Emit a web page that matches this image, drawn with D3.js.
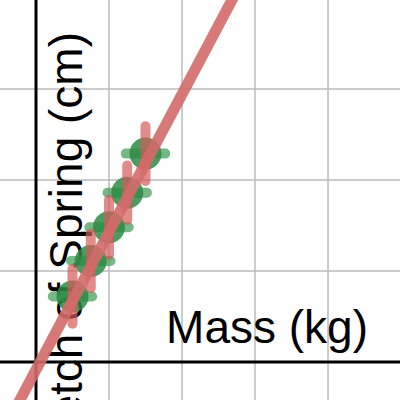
<!DOCTYPE html>
<html><head><meta charset="utf-8">
<script src="https://cdn.jsdelivr.net/npm/d3@7"></script>
<style>body{margin:0;background:#fff}</style>
</head><body>
<script>
// spring data
const mass = [0.5, 0.75, 1.0, 1.25, 1.5];
const stretch = [0.72, 1.11, 1.48, 1.86, 2.29];
const massErr = 0.27;
const stretchErr = 0.3;
const fitSlope = 1.514, fitIntercept = -0.086;
const xGrid = [1, 2, 3, 4];
const yGrid = [1, 2, 3];

const W = 400, H = 400;
const x = d3.scaleLinear().domain([-0.493, 4.986]).range([0, W]);
const y = d3.scaleLinear().domain([-0.418, 3.978]).range([H, 0]);

const svg = d3.select("body").append("svg").attr("width", W).attr("height", H)
  .style("font-family", "'Liberation Sans', Arial, sans-serif");

svg.selectAll(".gx").data(xGrid).enter().append("line")
  .attr("x1", d => x(d)).attr("x2", d => x(d)).attr("y1", 0).attr("y2", H)
  .attr("stroke", "#bbb").attr("stroke-width", 1.5);
svg.selectAll(".gy").data(yGrid).enter().append("line")
  .attr("y1", d => y(d)).attr("y2", d => y(d)).attr("x1", 0).attr("x2", W)
  .attr("stroke", "#bbb").attr("stroke-width", 1.5);

// axes
svg.append("line").attr("x1", x(0)).attr("x2", x(0)).attr("y1", 0).attr("y2", H)
  .attr("stroke", "#000").attr("stroke-width", 3);
svg.append("line").attr("y1", y(0)).attr("y2", y(0)).attr("x1", 0).attr("x2", W)
  .attr("stroke", "#000").attr("stroke-width", 3);

svg.append("text").attr("x", 368).attr("y", 343).attr("text-anchor", "end")
  .attr("font-size", 46).text("Mass (kg)");
svg.append("text").attr("transform", "translate(82,32) rotate(-90)")
  .attr("text-anchor", "end").attr("font-size", 46).text("Stretch of Spring (cm)");

const pts = mass.map((m, i) => ({ m, s: stretch[i] }));

// error bars
svg.selectAll(".ex").data(pts).enter().append("line")
  .attr("x1", d => x(d.m - massErr)).attr("x2", d => x(d.m + massErr))
  .attr("y1", d => y(d.s)).attr("y2", d => y(d.s))
  .attr("stroke", "#3a9a4e").attr("stroke-opacity", 0.7)
  .attr("stroke-width", 10).attr("stroke-linecap", "round");

svg.selectAll(".pt").data(pts).enter().append("circle")
  .attr("cx", d => x(d.m)).attr("cy", d => y(d.s)).attr("r", 16)
  .attr("fill", "#2d8a45").attr("fill-opacity", 0.85);

svg.selectAll(".ey").data(pts).enter().append("line")
  .attr("x1", d => x(d.m)).attr("x2", d => x(d.m))
  .attr("y1", d => y(d.s - stretchErr)).attr("y2", d => y(d.s + stretchErr))
  .attr("stroke", "#d45a5a").attr("stroke-opacity", 0.7)
  .attr("stroke-width", 10).attr("stroke-linecap", "round");

// fit line
const xs = [-1, 6];
svg.append("line")
  .attr("x1", x(xs[0])).attr("y1", y(fitSlope * xs[0] + fitIntercept))
  .attr("x2", x(xs[1])).attr("y2", y(fitSlope * xs[1] + fitIntercept))
  .attr("stroke", "#d46a6a").attr("stroke-opacity", 0.9).attr("stroke-width", 11);
</script>
</body></html>
